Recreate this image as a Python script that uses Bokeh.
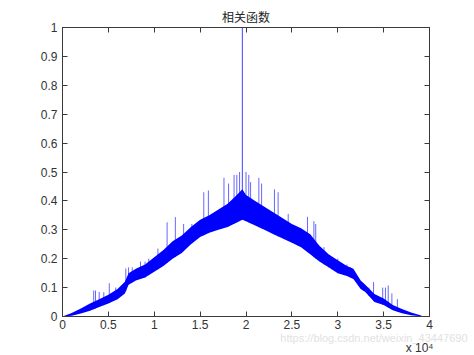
import numpy as np
from bokeh.plotting import figure
from bokeh.models import Range1d, LinearAxis, FixedTicker, Title
from bokeh.embed import file_html
from bokeh.resources import INLINE

# ---- data (lag in units of 1e4) ----
env_lag = [0.0, 0.1, 0.2, 0.3, 0.4, 0.5, 0.6, 0.68, 0.72, 0.8, 0.9, 1.0, 1.1, 1.2,
           1.3, 1.4, 1.5, 1.6, 1.7, 1.8, 1.9, 1.96, 2.0, 2.1, 2.2, 2.3, 2.4, 2.5,
           2.6, 2.7, 2.8, 2.9, 3.0, 3.1, 3.17, 3.25, 3.3, 3.4, 3.5, 3.6, 3.7, 3.8,
           3.9, 3.93]
env_low = [0.0, 0.003, 0.01, 0.02, 0.033, 0.045, 0.06, 0.08, 0.11, 0.125, 0.135,
           0.155, 0.175, 0.2, 0.22, 0.25, 0.275, 0.29, 0.30, 0.31, 0.325, 0.335,
           0.33, 0.315, 0.30, 0.285, 0.27, 0.255, 0.24, 0.215, 0.19, 0.17, 0.15,
           0.14, 0.13, 0.095, 0.085, 0.05, 0.04, 0.022, 0.011, 0.004, 0.001, 0.0]
env_high = [0.0, 0.012, 0.028, 0.045, 0.06, 0.075, 0.095, 0.12, 0.15, 0.165, 0.18,
            0.205, 0.23, 0.26, 0.28, 0.31, 0.335, 0.35, 0.37, 0.39, 0.42, 0.44,
            0.42, 0.40, 0.38, 0.36, 0.34, 0.32, 0.305, 0.285, 0.245, 0.215, 0.195,
            0.175, 0.165, 0.125, 0.11, 0.078, 0.062, 0.04, 0.026, 0.014, 0.004, 0.0]

spike_lag = [0.34, 0.36, 0.40, 0.45, 0.51, 0.58, 0.69, 0.72, 0.76, 0.85, 0.90, 0.94,
             1.04, 1.14, 1.23, 1.32, 1.41, 1.54, 1.59, 1.76, 1.81, 1.87, 1.90, 1.93,
             2.00, 2.03, 2.05, 2.14, 2.17, 2.31, 2.35, 2.46, 2.67, 2.74, 2.76, 2.85,
             2.90, 2.94, 3.00, 3.07, 3.10, 3.14, 3.28, 3.34, 3.39, 3.49, 3.52, 3.55,
             3.59, 3.65]
spike_val = [0.09, 0.09, 0.085, 0.084, 0.115, 0.10, 0.166, 0.17, 0.17, 0.19, 0.19,
             0.20, 0.235, 0.326, 0.344, 0.32, 0.32, 0.43, 0.436, 0.48, 0.46, 0.49,
             0.49, 0.50, 0.50, 0.49, 0.465, 0.48, 0.46, 0.44, 0.43, 0.355, 0.345,
             0.33, 0.32, 0.24, 0.21, 0.20, 0.20, 0.176, 0.18, 0.17, 0.114, 0.10,
             0.119, 0.10, 0.10, 0.107, 0.08, 0.06]

peak_lag = 1.96
peak_val = 1.0

x_ticks = [0, 0.5, 1, 1.5, 2, 2.5, 3, 3.5, 4]
x_tick_labels = ["0", "0.5", "1", "1.5", "2", "2.5", "3", "3.5", "4"]
y_ticks = [0, 0.1, 0.2, 0.3, 0.4, 0.5, 0.6, 0.7, 0.8, 0.9, 1]
y_tick_labels = ["0", "0.1", "0.2", "0.3", "0.4", "0.5", "0.6", "0.7", "0.8", "0.9", "1"]

title_text = "相关函数"
exponent_text = "x 10\u2074"
watermark_text = "https://blog.csdn.net/weixin_43447690"
SCALE = 1e4

# ---- figure ----
p = figure(width=474, height=355, x_range=Range1d(0, 4 * SCALE), y_range=Range1d(0, 1),
           output_backend="svg", toolbar_location=None,
           min_border_left=62, min_border_right=45, min_border_top=27, min_border_bottom=39)
p.background_fill_color = "white"
p.border_fill_color = "white"
p.outline_line_color = "#3a3a3a"
p.xgrid.visible = False
p.ygrid.visible = False

ex = [v * SCALE for v in env_lag]
p.varea(x=ex, y1=env_low, y2=env_high, fill_color="#0000ff")

sx = [v * SCALE for v in spike_lag]
base = np.interp(sx, ex, env_low)
p.segment(x0=sx, y0=base, x1=sx, y1=spike_val, line_color="#0000ff", line_alpha=0.6, line_width=1)
p.segment(x0=[peak_lag * SCALE], y0=[float(np.interp(peak_lag * SCALE, ex, env_low))],
          x1=[peak_lag * SCALE], y1=[peak_val], line_color="#0000ff", line_alpha=0.75, line_width=1)

xt = [v * SCALE for v in x_ticks]
x_over = {t: l for t, l in zip(xt, x_tick_labels)}
y_over = {t: l for t, l in zip(y_ticks, y_tick_labels)}

def style(ax, labels=True):
    ax.axis_line_color = "#3a3a3a"
    ax.major_tick_line_color = "#3a3a3a"
    ax.major_tick_in = 5
    ax.major_tick_out = 0
    ax.minor_tick_line_color = None
    ax.major_label_text_font = "Liberation Sans"
    ax.major_label_text_font_size = "12px"
    ax.major_label_text_color = "#333333"
    if not labels:
        ax.major_label_text_font_size = "1px"
        ax.major_label_standoff = 0

p.xaxis.ticker = FixedTicker(ticks=xt)
p.xaxis.major_label_overrides = x_over
p.xaxis.major_label_standoff = 3
style(p.xaxis[0])
p.yaxis.ticker = FixedTicker(ticks=y_ticks)
p.yaxis.major_label_overrides = y_over
p.yaxis.major_label_standoff = 5
style(p.yaxis[0])

top = LinearAxis(ticker=FixedTicker(ticks=xt))
style(top, labels=False)
top.major_label_overrides = {t: "" for t in xt}
p.add_layout(top, "above")
right = LinearAxis(ticker=FixedTicker(ticks=y_ticks))
style(right, labels=False)
right.major_label_overrides = {t: "" for t in y_ticks}
p.add_layout(right, "right")

p.add_layout(Title(text=title_text, align="center", text_font="Noto Sans CJK SC",
                   text_font_size="12px", text_font_style="normal",
                   text_color="#222222", standoff=5), "above")
p.add_layout(Title(text=watermark_text, align="right", offset=-38, text_font="Liberation Sans",
                   text_font_size="11px", text_font_style="normal",
                   text_color="#e2e2e2", standoff=-4), "below")
p.add_layout(Title(text=exponent_text, align="right", offset=-4, text_font="Liberation Sans",
                   text_font_size="12px", text_font_style="normal",
                   text_color="#333333", standoff=-5), "below")

open("out.html", "w").write(file_html(p, INLINE))
